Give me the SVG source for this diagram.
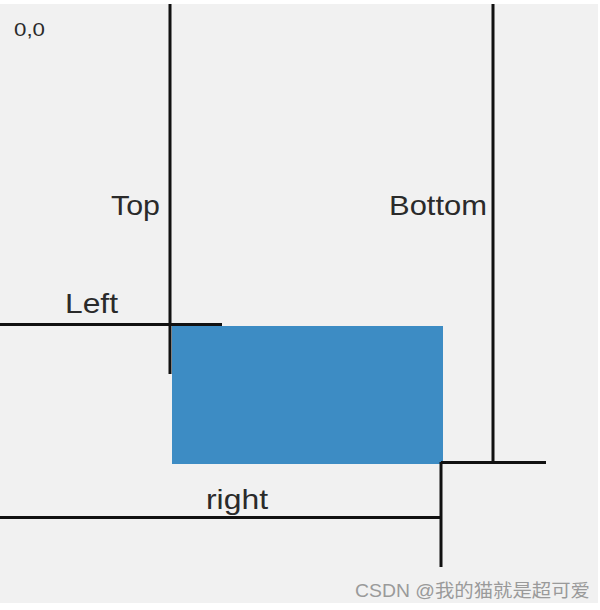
<svg xmlns="http://www.w3.org/2000/svg" width="600" height="610" viewBox="0 0 600 610">
<style>
.ln{stroke:#111;stroke-width:3;fill:none}
.lbl{font-family:"Liberation Sans",Arial,sans-serif;fill:#2a2a2a}
</style>
<rect x="0" y="0" width="600" height="610" fill="#ffffff"/>
<rect x="0" y="4" width="598" height="599" fill="#f1f1f1"/>
<g id="rect-node"><rect x="172" y="326" width="271" height="138" fill="#3d8cc4"/></g>
<g id="connectors">
<line class="ln" x1="170" y1="4" x2="170" y2="374"/>
<line class="ln" x1="0" y1="324.5" x2="222" y2="324.5"/>
<line class="ln" x1="493" y1="4" x2="493" y2="463"/>
<line class="ln" x1="441" y1="462.5" x2="546" y2="462.5"/>
<line class="ln" x1="441" y1="462" x2="441" y2="567"/>
<line class="ln" x1="0" y1="517.5" x2="441" y2="517.5"/>
</g>
<g id="labels">
<text class="lbl" x="14" y="36" font-size="18" textLength="31" lengthAdjust="spacingAndGlyphs">0,0</text>
<text class="lbl" x="111" y="215" font-size="28" textLength="49" lengthAdjust="spacingAndGlyphs">Top</text>
<text class="lbl" x="389" y="215" font-size="28" textLength="98" lengthAdjust="spacingAndGlyphs">Bottom</text>
<text class="lbl" x="65" y="313" font-size="28" textLength="53" lengthAdjust="spacingAndGlyphs">Left</text>
<text class="lbl" x="206" y="509" font-size="28" textLength="62" lengthAdjust="spacingAndGlyphs">right</text>
</g>
<text x="355" y="597" font-size="18" fill="#9a9a9a" font-family="'Liberation Sans','Noto Sans CJK SC',sans-serif" textLength="235" lengthAdjust="spacingAndGlyphs">CSDN @我的猫就是超可爱</text>
</svg>
